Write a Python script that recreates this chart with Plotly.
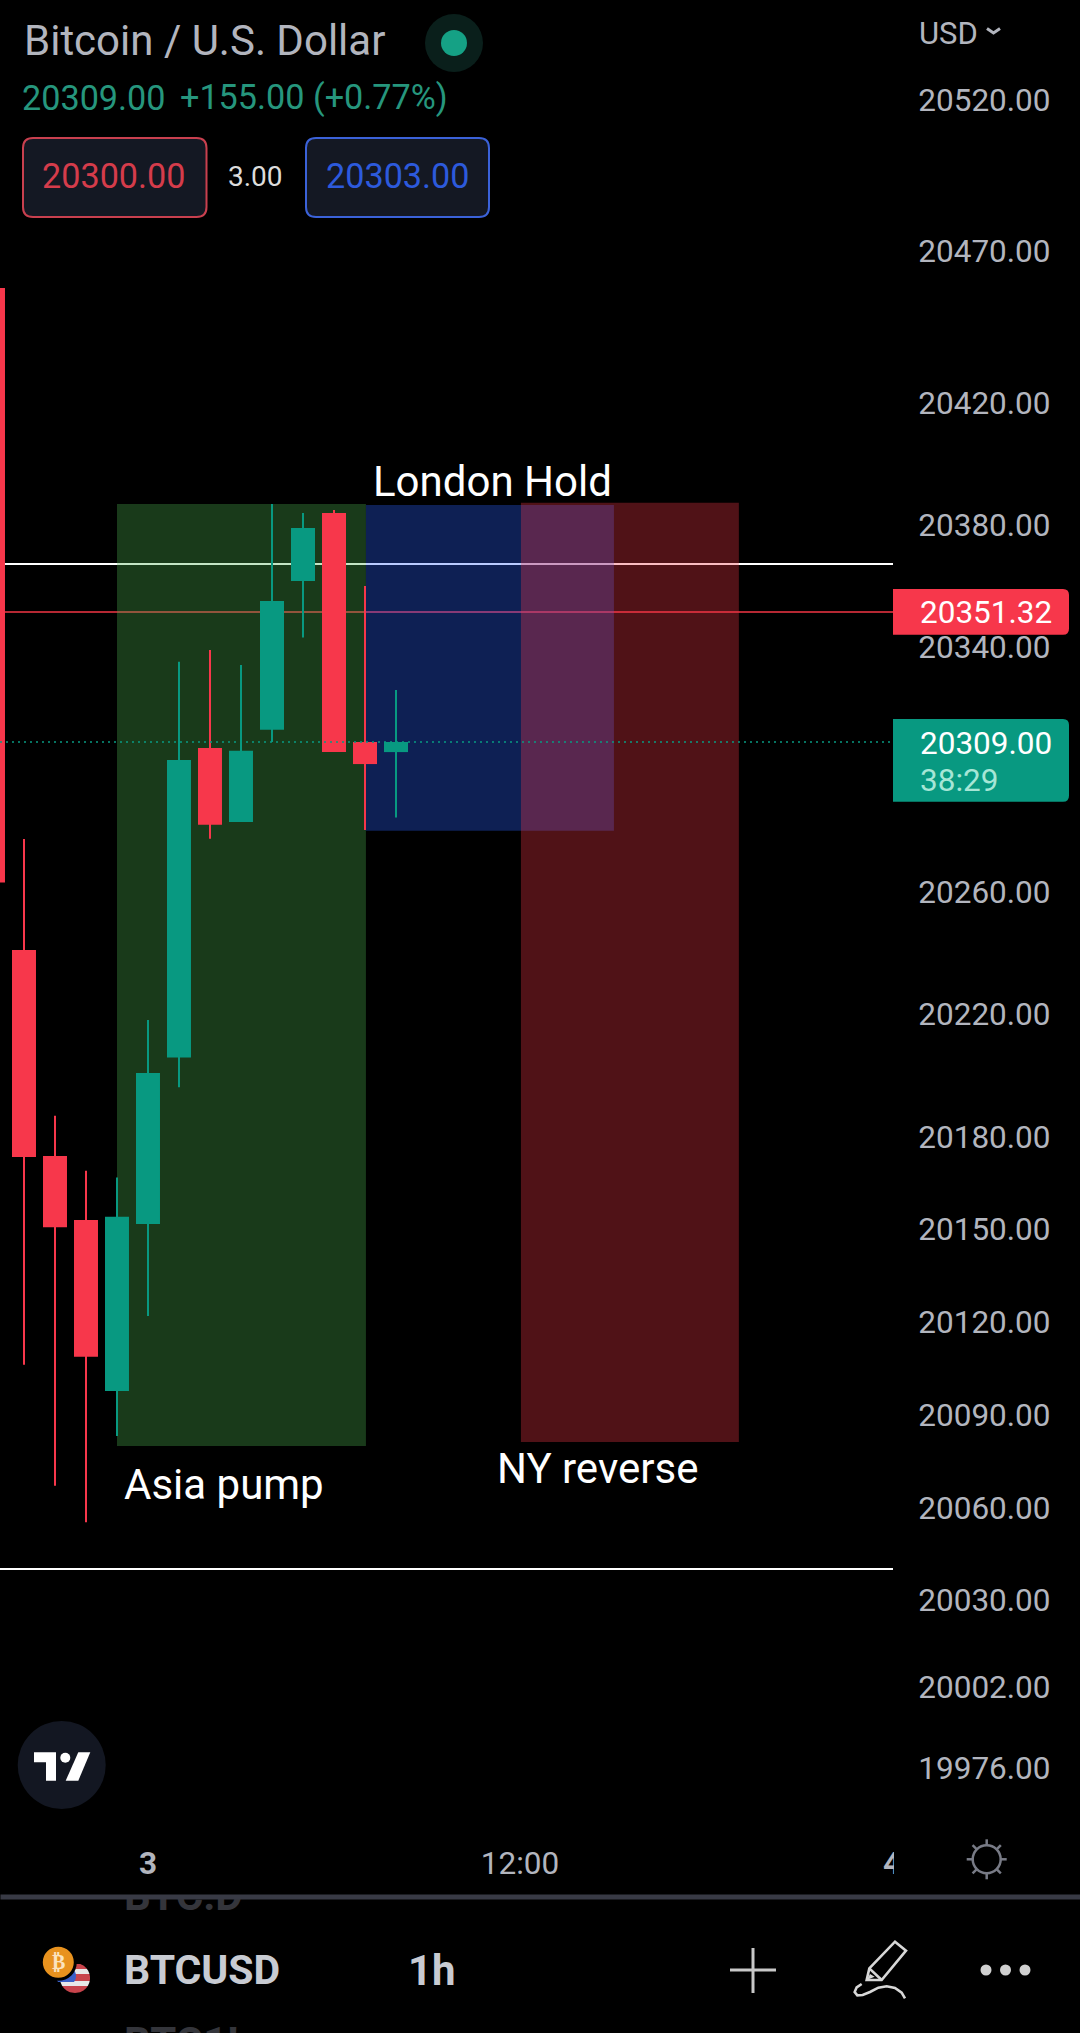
import math
import plotly.graph_objects as go

# Candles, hours counted from midnight of day 3
hours = [-5, -4, -3, -2, -1, 0, 1, 2, 3, 4, 5, 6, 7, 8]
opens = [20456.9, 20241.2, 20174.1, 20153.3, 20097.6, 20152.0, 20206.2, 20307.0, 20282.9, 20313.0, 20361.4, 20383.6, 20309.0, 20305.7]
highs = [20456.9, 20277.4, 20187.2, 20169.3, 20167.1, 20218.4, 20335.1, 20339.0, 20334.1, 20386.5, 20383.6, 20384.6, 20359.8, 20325.9]
lows = [20263.2, 20106.1, 20066.7, 20054.8, 20082.9, 20122.0, 20196.5, 20277.5, 20282.9, 20309.0, 20343.0, 20305.7, 20280.3, 20284.4]
closes = [20263.2, 20173.8, 20150.9, 20108.7, 20154.3, 20201.2, 20303.1, 20282.0, 20306.1, 20354.9, 20378.7, 20305.7, 20301.8, 20309.0]

# Drawn levels and session boxes
white_levels = [20367.0, 20039.6]
alert_level = 20351.32
last_price = 20309.00
asia_box = [-1, 7.03, 20079.7, 20386.5]
london_box = [7.03, 15.03, 20280.1, 20386.2]
ny_box = [12.03, 19.06, 20081.0, 20386.9]

# Axes
price_ticks = [20518.1, 20468.8, 20419.4, 20379.7, 20339.9, 20260.1, 20220.4, 20180.3,
               20150.4, 20120.1, 20089.9, 20059.5, 20029.5, 20001.2, 19974.8]
price_labels = ["20520.00", "20470.00", "20420.00", "20380.00", "20340.00", "20260.00", "20220.00", "20180.00",
                "20150.00", "20120.00", "20090.00", "20060.00", "20030.00", "20002.00", "19976.00"]
time_ticks = [0, 12, 24]
time_labels = ["<b>3</b>", "12:00", "<b>4</b>"]

GREEN = "#089981"
RED = "#F7374B"
GREY = "#B2B5BE"
FONT = "Roboto"

# Plot area size in page pixels, the app chrome is placed from these
PLOT_W = 893
PLOT_H = 1825


def X(px):
    return px / PLOT_W


def Y(py):
    return 1 - py / PLOT_H


annotations = []
shapes = []


def label(text, x, y, size, color, anchor="left"):
    annotations.append(dict(text=text, x=X(x), y=Y(y), xref="paper", yref="paper", xanchor=anchor, yanchor="middle",
                            showarrow=False, font=dict(family=FONT, size=size, color=color), borderpad=0))


def box_note(x0, y0, x1, y1, color):
    # annotation used as a filled box so it can sit on top of other text
    annotations.append(dict(text=" ", x=X(x0), y=Y(y0), xref="paper", yref="paper", xanchor="left", yanchor="top",
                            width=x1 - x0, height=y1 - y0, bgcolor=color, showarrow=False, borderpad=0,
                            font=dict(size=1)))


def px_path(points, close=False):
    s = "M" + " L".join(f"{X(a):.5f},{Y(b):.5f}" for a, b in points)
    return s + (" Z" if close else "")


def round_rect(x0, y0, x1, y1, r, left=True):
    rl = r if left else 0
    return (f"M{X(x0 + rl)},{Y(y0)} L{X(x1 - r)},{Y(y0)} Q{X(x1)},{Y(y0)} {X(x1)},{Y(y0 + r)} "
            f"L{X(x1)},{Y(y1 - r)} Q{X(x1)},{Y(y1)} {X(x1 - r)},{Y(y1)} L{X(x0 + rl)},{Y(y1)} "
            f"Q{X(x0)},{Y(y1)} {X(x0)},{Y(y1 - rl)} L{X(x0)},{Y(y0 + rl)} Q{X(x0)},{Y(y0)} {X(x0 + rl)},{Y(y0)} Z")


def add_path(path, fill=None, line=None, width=0):
    shapes.append(dict(type="path", path=path, xref="paper", yref="paper", layer="above",
                       fillcolor=fill if fill else "rgba(0,0,0,0)",
                       line=dict(color=line if line else "rgba(0,0,0,0)", width=width)))


def add_circle(cx, cy, r, fill=None, line=None, width=0):
    shapes.append(dict(type="circle", xref="paper", yref="paper", layer="above",
                       x0=X(cx - r), x1=X(cx + r), y0=Y(cy + r), y1=Y(cy - r),
                       fillcolor=fill if fill else "rgba(0,0,0,0)",
                       line=dict(color=line if line else "rgba(0,0,0,0)", width=width)))


def disc_band(cx, cy, r, y0, y1):
    # part of a disc between two heights, for the flag stripes
    pts = []
    steps = 8
    for i in range(steps + 1):
        yy = y0 + (y1 - y0) * i / steps
        pts.append((cx + math.sqrt(max(r * r - (yy - cy) ** 2, 0)), yy))
    for i in range(steps, -1, -1):
        yy = y0 + (y1 - y0) * i / steps
        pts.append((cx - math.sqrt(max(r * r - (yy - cy) ** 2, 0)), yy))
    return px_path(pts, True)


# Candles as floating bars, go.Candlestick does not let the body width be set
candle_colors = [GREEN if c >= o else RED for o, c in zip(opens, closes)]
fig = go.Figure()
fig.add_trace(go.Bar(x=hours, base=lows, y=[h - l for h, l in zip(highs, lows)], width=0.055,
                     marker=dict(color=candle_colors, line=dict(width=0)), hoverinfo="skip"))
fig.add_trace(go.Bar(x=hours, base=[min(o, c) for o, c in zip(opens, closes)], y=[abs(c - o) for o, c in zip(opens, closes)], width=0.774,
                     marker=dict(color=candle_colors, line=dict(width=0)), hoverinfo="skip"))

# Levels go under the session boxes, the boxes tint them
for level in white_levels:
    shapes.append(dict(type="line", xref="paper", yref="y", x0=0, x1=1, y0=level, y1=level, layer="below",
                       line=dict(color="#FFFFFF", width=2)))
shapes.append(dict(type="line", xref="paper", yref="y", x0=0, x1=1, y0=alert_level, y1=alert_level, layer="below",
                   line=dict(color="#F23645", width=1.5)))
for rect, color in [(asia_box, "rgba(76,175,80,0.33)"), (london_box, "rgba(41,98,255,0.33)"), (ny_box, "rgba(242,54,69,0.33)")]:
    shapes.append(dict(type="rect", xref="x", yref="y", x0=rect[0], x1=rect[1], y0=rect[2], y1=rect[3], layer="below",
                       fillcolor=color, line=dict(width=0)))
shapes.append(dict(type="line", xref="paper", yref="y", x0=0, x1=1, y0=last_price, y1=last_price, layer="above",
                   line=dict(color=GREEN, width=1.5, dash="2px,4px")))

# Drawing labels
label("London Hold", 372, 482, 42, "#FFFFFF")
label("Asia pump", 123, 1484, 42, "#FFFFFF")
label("NY reverse", 496, 1468, 42, "#FFFFFF")

# Header
label("Bitcoin / U.S. Dollar", 23, 41, 42, GREY)
add_circle(454, 43, 29, fill="#0A1F1B")
add_circle(454, 43, 13, fill="#15A185")
label("20309.00", 21, 98, 34.2, "#26967D")
label("+155.00 (+0.77%)", 179, 98, 34.2, "#26967D")
add_path(round_rect(23, 138, 206.5, 217, 10), fill="#141823", line="#C9404F", width=2)
label("20300.00", 41, 176, 34.2, "#D53C4B")
label("3.00", 227, 176, 28, "#DCDCDC")
add_path(round_rect(306, 138, 489, 217, 10), fill="#141823", line="#3B62D9", width=2)
label("20303.00", 325, 176, 34.2, "#2D5ADC")
label("USD", 918, 33, 31, GREY)
add_path(px_path([(987, 28.5), (993.5, 33), (1000, 28.5)]), line=GREY, width=3)

# Price tags on the axis
add_path(round_rect(893, 589, 1069, 634.7, 6, left=False), fill=RED)
label("20351.32", 919, 612, 31.5, "#FFFFFF")
add_path(round_rect(893, 719, 1069, 801.7, 6, left=False), fill=GREEN)
label("20309.00", 919, 743, 31.5, "#FFFFFF")
label("38:29", 919, 780, 31.5, "#A6E6D6")

# TradingView badge
add_circle(61.7, 1765, 44, fill="#131722")
add_path(px_path([(34, 1752.3), (56, 1752.3), (56, 1780.7), (46, 1780.7), (46, 1762.3), (34, 1762.3)], True), fill="#FFFFFF")
add_circle(65.3, 1757.7, 5, fill="#FFFFFF")
add_path(px_path([(78.3, 1752.3), (90.3, 1752.3), (78.3, 1780.7), (65.7, 1780.7)], True), fill="#FFFFFF")

# Settings gear, and a cover that cuts off the "4" tick label
shapes.append(dict(type="rect", xref="paper", yref="paper", layer="above", x0=X(894), x1=X(950), y0=Y(1885), y1=Y(1835),
                   fillcolor="#000000", line=dict(width=0)))
add_circle(986.7, 1859.3, 14, line="#787B86", width=2.5)
for k in range(8):
    a = k * math.pi / 4
    add_path(px_path([(986.7 + 14 * math.cos(a), 1859.3 + 14 * math.sin(a)),
                      (986.7 + 20 * math.cos(a), 1859.3 + 20 * math.sin(a))]), line="#787B86", width=2.5)

# Bottom bar, list rows scrolled behind it
label("<b>BTC.D</b>", 123, 1896, 42, "#34353B")
box_note(120, 1878, 250, 1894, "#000000")
box_note(0, 1894, 1080, 1897.5, "#383A45")
label("<b>BTC1!</b>", 123, 2042, 42, "#34353B")

label("<b>BTCUSD</b>", 123, 1970, 41, "#C8CBD2")
label("<b>1h</b>", 407, 1970, 42, "#C8CBD2")

# Symbol icons
for y0, y1, color in [(1964, 1969, "#C8444C"), (1969, 1974, "#E8E8E8"), (1974, 1981, "#C8444C"), (1981, 1986, "#E8E8E8"), (1986, 1993, "#C8444C")]:
    add_path(disc_band(75, 1978, 15, y0, y1), fill=color)
add_path(disc_band(66, 1976, 10, 1966, 1982), fill="#3A5FC8")
add_circle(58.3, 1962.3, 18.5, fill="#000000")
add_circle(58.3, 1962.3, 15.5, fill="#E8921E")
annotations.append(dict(text="<b>₿</b>", x=X(58.3), y=Y(1962.3), xref="paper", yref="paper", xanchor="center", yanchor="middle",
                        showarrow=False, font=dict(family="DejaVu Sans", size=20, color="#FBE3BE")))

# Plus, pencil, dots
add_path(px_path([(730, 1970), (776, 1970)]), line="#C8C8C8", width=3)
add_path(px_path([(753, 1948), (753, 1993)]), line="#C8C8C8", width=3)
pencil = [(165, 35), (198, 62), (125, 150), (80, 150), (88, 115)]
add_path(px_path([(840 + a / 3, 1930 + b / 3) for a, b in pencil], True), line="#D7D7D7", width=2.6)
add_path(px_path([(840 + a / 3, 1930 + b / 3) for a, b in [(88, 115), (125, 150)]]), line="#D7D7D7", width=2.6)
add_path(px_path([(840 + a / 3, 1930 + b / 3) for a, b in [(80, 150), (90, 132), (104, 140)]], True), fill="#D7D7D7")
squiggle = [(65, 162), (50, 172), (44, 186), (52, 196), (68, 195), (90, 186), (115, 173), (140, 169), (165, 174), (185, 188), (195, 205)]
add_path(px_path([(840 + a / 3, 1930 + b / 3) for a, b in squiggle]), line="#D7D7D7", width=2.6)
for cx in [986, 1005.5, 1025]:
    add_circle(cx, 1970, 5.5, fill="#D0D0D0")

fig.update_layout(
    width=1080, height=2033, margin=dict(l=0, r=1080 - PLOT_W, t=0, b=2033 - PLOT_H),
    paper_bgcolor="#000000", plot_bgcolor="#000000", showlegend=False, barmode="overlay",
    shapes=shapes, annotations=annotations, hovermode=False,
)
fig.update_xaxes(range=[-4.774, 24.032], tickmode="array", tickvals=time_ticks, ticktext=time_labels,
                 showgrid=False, zeroline=False, showline=False, ticks="outside", ticklen=10,
                 tickcolor="rgba(0,0,0,0)", tickangle=0, tickfont=dict(family=FONT, size=31.5, color=GREY), fixedrange=True)
fig.update_yaxes(range=[19956.2, 20550.7], side="right", tickmode="array", tickvals=price_ticks, ticktext=price_labels,
                 showgrid=False, zeroline=False, showline=False, ticks="outside", ticklen=18,
                 tickcolor="rgba(0,0,0,0)", tickfont=dict(family=FONT, size=31.5, color=GREY), fixedrange=True)

fig.write_html("out.html", config={"displayModeBar": False},
               post_script="document.body.style.margin='0';document.body.style.background='#000';document.documentElement.style.overflow='hidden';")
